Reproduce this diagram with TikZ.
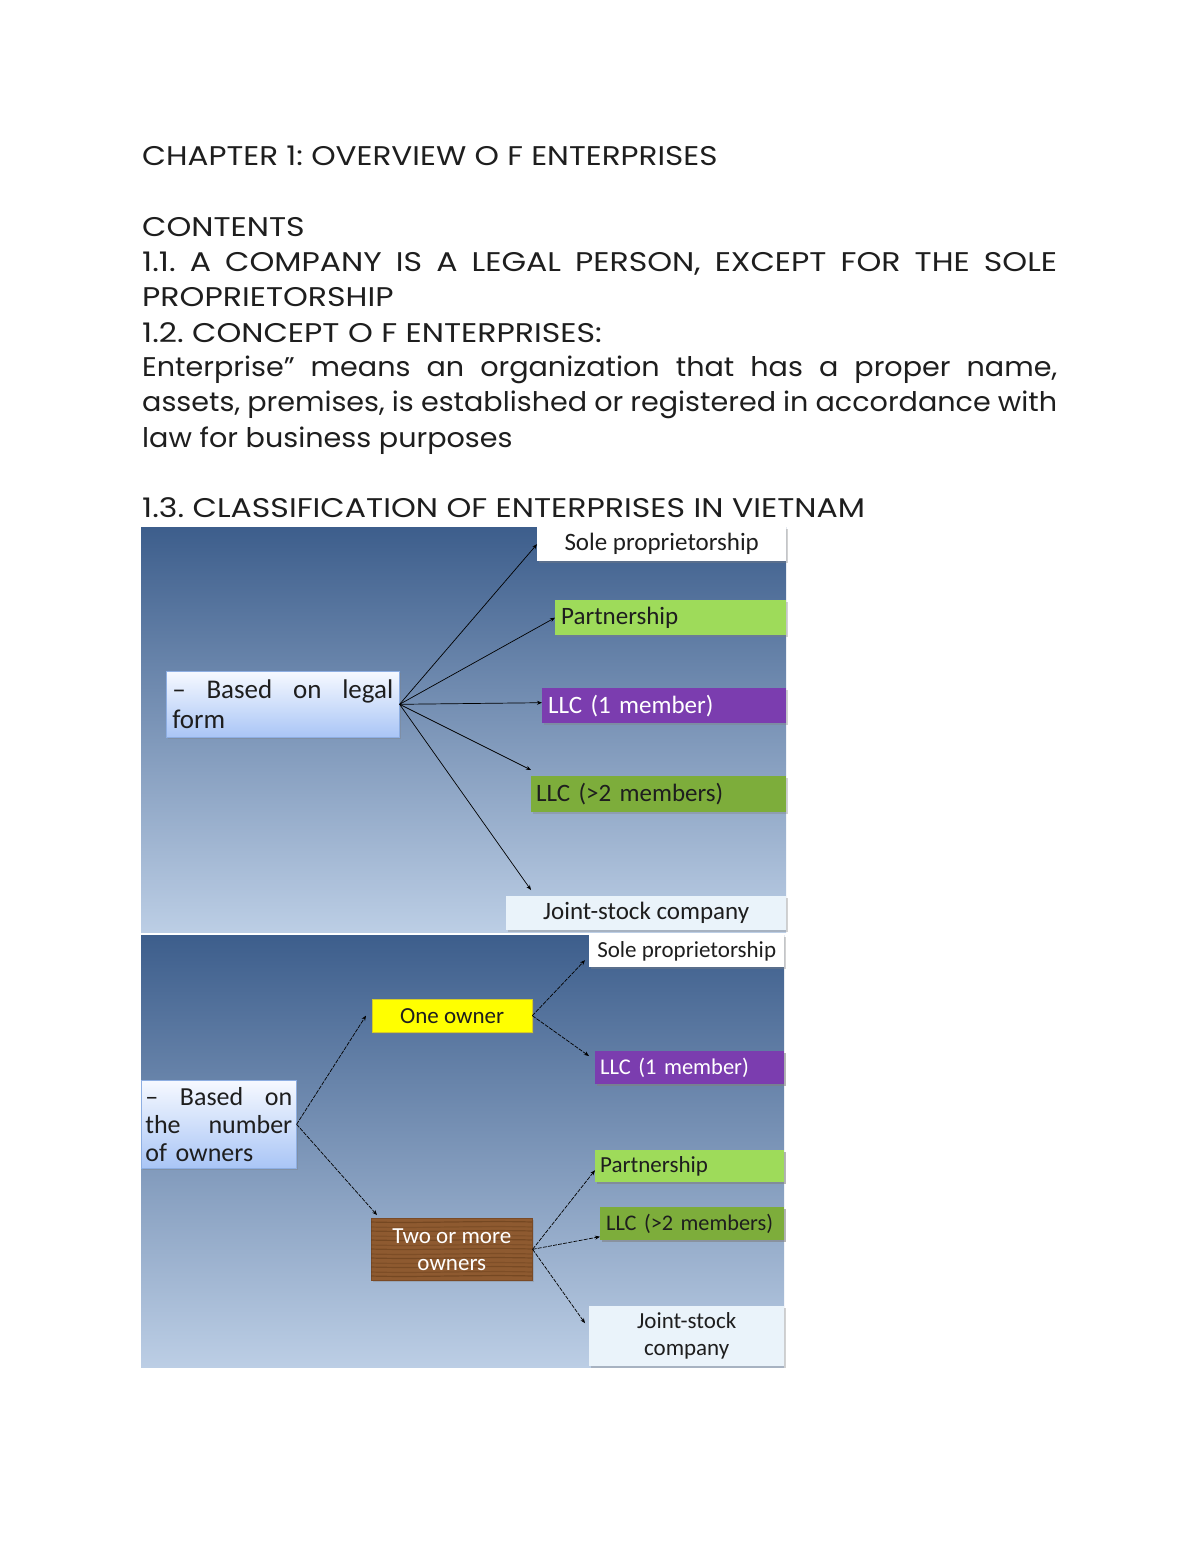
\documentclass[tikz,border=0pt]{standalone}
\usepackage{fontspec}
\setmainfont{Poppins}[FakeStretch=1.06]
\newfontfamily\capfont{Poppins}[FakeStretch=1.17]
\newfontfamily\titlefont{Poppins}[FakeStretch=1.15]
\newfontfamily\diafont{Carlito}
\usetikzlibrary{shadows,arrows.meta,calc}
\definecolor{bgtop}{HTML}{3D5E8C}
\definecolor{bgbot}{HTML}{BCCEE5}
\definecolor{gfill}{HTML}{9EDB5A}
\definecolor{ofill}{HTML}{7DAD3B}
\definecolor{pfill}{HTML}{7B3DAF}
\definecolor{yfill}{HTML}{FFFF00}
\definecolor{bfill}{HTML}{8E5A30}
\definecolor{bdark}{HTML}{7A4A26}
\definecolor{bgrain}{HTML}{5E3716}
\definecolor{jfill}{HTML}{EAF3FA}
\definecolor{boxtop}{HTML}{F6F9FF}
\definecolor{boxbot}{HTML}{A9C5F6}
\definecolor{boxline}{HTML}{8DAEE2}
\definecolor{ink}{HTML}{1E1E1E}
\frenchspacing
\begin{document}
\begin{tikzpicture}[x=1pt,y=-1pt,
  pagetext/.style={anchor=base west, inner sep=0pt, text=ink, font=\fontsize{27}{32}\selectfont},
  captext/.style={pagetext, font=\capfont\fontsize{27}{32}\selectfont},
  bgpanel/.style={anchor=north west, inner sep=0pt, top color=bgtop, bottom color=bgbot, draw=none},
  dbox/.style={anchor=north west, inner sep=0pt, draw=none, text=ink,
     font=\diafont\fontsize{25}{30}\selectfont,
     drop shadow={shadow xshift=1.5pt, shadow yshift=-2pt, opacity=0.35}},
  dboxs/.style={dbox, font=\diafont\fontsize{23}{27}\selectfont},
  leftbox/.style={dbox, inner xsep=6pt, align=left},
  srcbox/.style={dbox, top color=boxtop, bottom color=boxbot, draw=boxline, line width=0.6pt, inner xsep=5pt, align=left},
  conn/.style={draw=black, line width=0.7pt, -{Stealth[length=5pt,width=4pt]}},
  connd/.style={conn, dash pattern=on 4pt off 1.2pt}
]
\useasboundingbox[fill=white] (0,0) rectangle (1200,1553);

% ---------- page text ----------
\node[pagetext, font=\titlefont\fontsize{27}{32}\selectfont] (title) at (142,165) {CHAPTER 1: OVERVIEW O F ENTERPRISES};
\node[captext] (contents) at (142,236) {CONTENTS};
\node[captext] (s11a) at (142,271) {\makebox[915pt][s]{1.1. A COMPANY IS A LEGAL PERSON, EXCEPT FOR THE SOLE}};
\node[captext] (s11b) at (142,306) {PROPRIETORSHIP};
\node[captext] (s12) at (142,342) {1.2. CONCEPT O F ENTERPRISES:};
\node[pagetext] (p1) at (142,376) {\makebox[915pt][s]{Enterprise" means an organization that has a proper name,}};
\node[pagetext] (p2) at (142,411) {\makebox[915pt][s]{assets, premises, is established or registered in accordance with}};
\node[pagetext] (p3) at (142,447) {law for business purposes};
\node[captext] (s13) at (142,517) {1.3. CLASSIFICATION OF ENTERPRISES IN VIETNAM};

% ---------- diagram 1 ----------
\node[bgpanel, minimum width=645pt, minimum height=405pt] (bg1) at (141,527) {};
\node[dbox, fill=white, minimum width=249pt, minimum height=34pt] (sp1) at (537,527) {Sole proprietorship};
\node[leftbox, fill=gfill, text width=219pt, minimum height=35pt] (pa1) at (555,600) {Partnership};
\node[leftbox, fill=pfill, text=white, text width=232pt, minimum height=35pt] (ll1) at (542,688) {LLC (1 member)};
\node[leftbox, fill=ofill, text width=245pt, minimum height=36pt, inner xsep=5pt] (ll2) at (531,776) {\mbox{LLC (>2 members)}};
\node[dbox, fill=jfill, minimum width=280pt, minimum height=34pt] (js1) at (506,896) {Joint-stock company};
\node[srcbox, text width=221pt, minimum height=66pt, inner xsep=6pt, font=\diafont\fontsize{27}{30}\selectfont] (legal) at (166,671)
  {\makebox[221pt]{–\hfill Based\hfill on\hfill legal}\\form};

\coordinate (e1) at ($(ll2.north west)+(0,-6)$);
\coordinate (e2) at ($(js1.north west)+(25,-6)$);
\draw[conn] (legal.east) -- (sp1.west);
\draw[conn] (legal.east) -- (pa1.west);
\draw[conn] (legal.east) -- ($(ll1.west)+(0,-3)$);
\draw[conn] (legal.east) -- (e1);
\draw[conn] (legal.east) -- (e2);

% ---------- diagram 2 ----------
\node[bgpanel, minimum width=643pt, minimum height=432pt] (bg2) at (141,935) {};
\node[dboxs, fill=white, minimum width=195pt, minimum height=32pt] (sp2) at (589,935) {Sole proprietorship};
\node[dboxs, fill=yfill, minimum width=160pt, minimum height=33pt, draw=yellow!80!black, line width=0.3pt] (one) at (372,999) {One owner};
\node[leftbox, dboxs, inner xsep=5pt, align=left, fill=pfill, text=white, text width=179pt, minimum height=33pt, font=\diafont\fontsize{22.5}{27}\selectfont] (ll1b) at (595,1051) {\mbox{LLC (1 member)}};
\node[leftbox, dboxs, inner xsep=5pt, align=left, fill=gfill, text width=179pt, minimum height=32pt] (pa2) at (595,1150) {Partnership};
\node[leftbox, dboxs, inner xsep=6pt, align=left, fill=ofill, text width=172pt, minimum height=33pt, font=\diafont\fontsize{22.3}{27}\selectfont] (ll2b) at (600,1207) {\mbox{LLC (>2 members)}};
\node[dboxs, fill=bfill, text=white, minimum width=161pt, minimum height=62pt, draw=bdark, line width=0.6pt] (two) at (371,1218) {};
\begin{scope}
  \clip (371,1218) rectangle (532,1280);
  \foreach \yy/\op in {1222/0.5,1227/0.3,1231/0.45,1236/0.25,1240/0.5,1245/0.3,1249/0.45,1254/0.35,1258/0.5,1263/0.3,1267/0.45,1272/0.35,1276/0.5}
    \draw[bgrain, opacity=\op, line width=1.2pt] (371,\yy) .. controls (420,\yy+1.5) and (480,\yy-1.5) .. (532,\yy);
\end{scope}
\node[anchor=center, inner sep=0pt, text=white, align=center, font=\diafont\fontsize{23}{27}\selectfont] (twotxt) at (two.center) {Two or more\\owners};
\node[dboxs, fill=jfill, minimum width=195pt, minimum height=60pt, align=center] (js2) at (589,1306) {Joint-stock\\company};
\node[srcbox, text width=147pt, minimum height=88pt, inner xsep=4pt, font=\diafont\fontsize{26}{28}\selectfont] (owners) at (141,1080)
  {\makebox[147pt]{–\hfill Based\hfill on}\\\makebox[147pt]{the\hfill number}\\of owners};

\coordinate (f1) at ($(two.north west)+(6,-3)$);
\coordinate (f2) at ($(sp2.west)+(-4,9)$);
\coordinate (f3) at ($(ll1b.north west)+(-6,5)$);
\coordinate (f4) at ($(pa2.west)+(0,4)$);
\coordinate (f5) at ($(ll2b.west)+(0,13)$);
\coordinate (f6) at ($(js2.west)+(-4,-13)$);
\draw[connd] (owners.east) -- ($(one.west)+(-6,0)$);
\draw[connd] (owners.east) -- (f1);
\draw[connd] (one.east) -- (f2);
\draw[connd] (one.east) -- (f3);
\draw[connd] (two.east) -- (f4);
\draw[connd] (two.east) -- (f5);
\draw[connd] (two.east) -- (f6);
\end{tikzpicture}
\end{document}
